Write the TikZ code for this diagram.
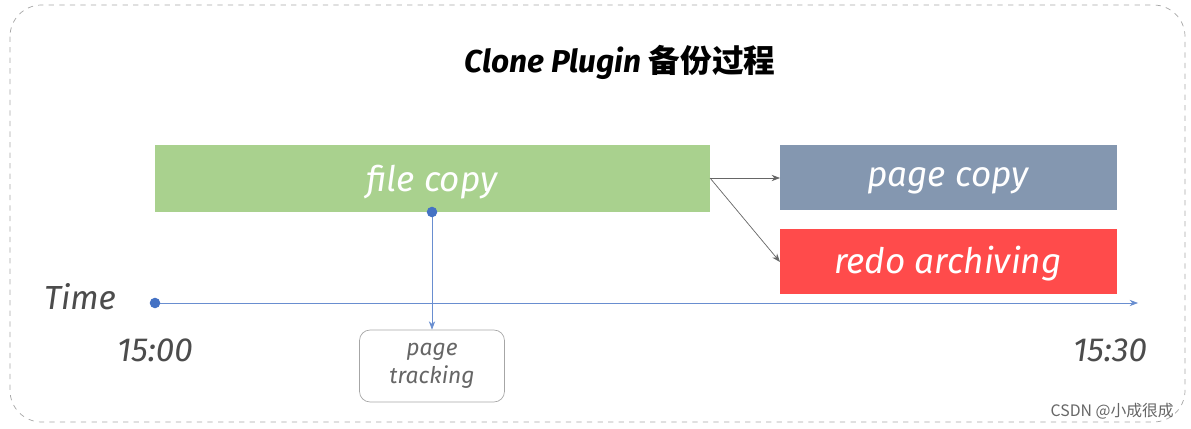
\documentclass[tikz,border=0pt]{standalone}
\usepackage{fontspec}
\setmainfont{Fira Sans}
\newfontfamily\cjk{Noto Sans CJK SC}
\usetikzlibrary{positioning,arrows.meta}
\definecolor{fcgreen}{HTML}{A9D18E}
\definecolor{pcblue}{HTML}{8497B0}
\definecolor{rared}{HTML}{FF4B4B}
\definecolor{tlblue}{HTML}{4472C4}
\begin{document}
\begin{tikzpicture}[
    x=0.02cm, y=-0.02cm,
    >=Stealth,
    phase/.style={text=white, font=\itshape\fontsize{20}{24}\selectfont, inner sep=0pt},
    tick/.style={text=black!70, font=\itshape\fontsize{19}{23}\selectfont}
]
    \useasboundingbox (0,0) rectangle (1191,429);
    \draw[black!35, dashed, rounded corners=18pt] (10,5) rectangle (1185,422);
    \node[font=\bfseries\itshape\fontsize{18}{22}\selectfont] (title) at (620,62) {Clone Plugin {\cjk\bfseries 备份过程}};

    \fill[fcgreen] (155,145) rectangle (710,212);
    \node[phase] (fc) at (432,182) {file copy};
    \fill[pcblue] (780,145) rectangle (1117,210);
    \node[phase] (pc) at (948,181) {page copy};
    \fill[rared] (780,229) rectangle (1117,294);
    \node[phase] (ra) at (948,264) {redo archiving};
    \coordinate (fcr) at (710,178);
    \coordinate (pcl) at (780,178);
    \coordinate (ral) at (780,262);
    \draw[->, black!60] (fcr) -- (pcl);
    \draw[->, black!60] (fcr) -- (ral);

    \coordinate (t0) at (155,303);
    \coordinate (t1) at (1138,303);
    \draw[->, tlblue!80] (t0) -- (t1);
    \fill[tlblue] (t0) circle (3pt);
    \node[tick] (time) at (80,297) {Time};
    \node[tick] (start) at (155,350) {15:00};
    \node[tick] (end) at (1110,350) {15:30};

    \node[draw=black!35, rounded corners=6pt, minimum width=2.9cm, minimum height=1.44cm,
          align=center, text=black!60, font=\itshape\fontsize{13}{16}\selectfont] (pt) at (432,366) {page\\tracking};
    \coordinate (fcb) at (432,212);
    \draw[->, tlblue!80] (fcb) -- (pt.north);
    \fill[tlblue] (fcb) circle (3pt);

    \node[text=black!60, font=\cjk\fontsize{9}{11}\selectfont, anchor=east] (wm) at (1180,411) {CSDN @小成很成};
\end{tikzpicture}
\end{document}
